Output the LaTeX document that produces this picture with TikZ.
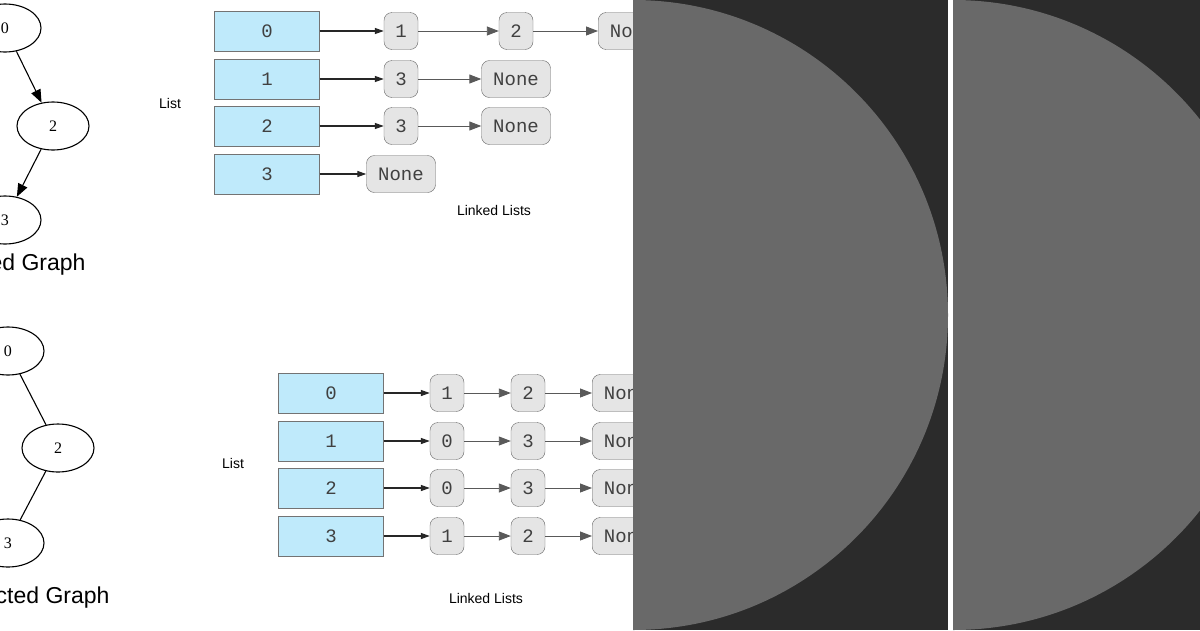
\documentclass[tikz,border=0pt]{standalone}
\usepackage{fontspec}
\setmainfont{Liberation Sans}
\newfontfamily\mono{Liberation Mono}
\newfontfamily\seriff{Liberation Serif}
\usetikzlibrary{arrows.meta,shapes.geometric}
\begin{document}
\begin{tikzpicture}[x=1pt,y=-1pt,
  box/.style={draw=black!55,fill=cyan!25!white,minimum width=105pt,minimum height=40pt,inner sep=0pt,font=\mono\fontsize{19}{19}\selectfont,text=black!75},
  ll/.style={draw=black!60,fill=black!10,rounded corners=8pt,minimum width=34pt,minimum height=37pt,inner sep=2pt,font=\mono\fontsize{19}{19}\selectfont,text=black!75},
  nn/.style={ll,minimum width=69pt},
  gv/.style={draw,line width=1.1pt,ellipse,minimum width=72pt,minimum height=48pt,inner sep=0pt,font=\seriff\fontsize{16}{16}\selectfont},
  a1/.style={-{Triangle[length=9pt,width=6pt]},line width=1.3pt,black!85},
  a2/.style={-{Triangle[length=12pt,width=9pt]},line width=0.9pt,black!65},
  ge/.style={-{Triangle[length=13pt,width=10pt]},line width=1.1pt},
  lab/.style={font=\fontsize{14}{14}\selectfont}]
\useasboundingbox (0,0) rectangle (1200,630);
\fill[white] (0,0) rectangle (633,630);
\begin{scope}
\clip (0,0) rectangle (633,630);
% top graph
\node[gv] (t0) at (5,28) {0};
\node[gv] (t2) at (53,126) {2};
\node[gv] (t3) at (5,220) {3};
\draw[ge] (t0) -- (t2);
\draw[ge] (t2) -- (t3);
\node[anchor=east,font=\fontsize{23}{23}\selectfont] (tt) at (89,265) {Directed Graph};
% top lists
\node[lab] (tl) at (170,103) {List};
\node[box] (b0) at (267,31) {0};
\node[box] (b1) at (267,79) {1};
\node[box] (b2) at (267,126) {2};
\node[box] (b3) at (267,174) {3};
\node[ll] (n01) at (401,31) {1};
\node[ll] (n02) at (516,31) {2};
\node[nn,anchor=west] (n03) at (598,31) {None};
\node[ll] (n11) at (401,79) {3};
\node[nn] (n12) at (516,79) {None};
\node[ll] (n21) at (401,126) {3};
\node[nn] (n22) at (516,126) {None};
\node[nn] (n31) at (401,174) {None};
\draw[a1] (b0) -- (n01); \draw[a2] (n01) -- (n02); \draw[a2] (n02) -- (n03);
\draw[a1] (b1) -- (n11); \draw[a2] (n11) -- (n12);
\draw[a1] (b2) -- (n21); \draw[a2] (n21) -- (n22);
\draw[a1] (b3) -- (n31);
\node[lab] (tll) at (494,210) {Linked Lists};
% bottom graph
\node[gv] (u0) at (8,351) {0};
\node[gv] (u2) at (58,448) {2};
\node[gv] (u3) at (8,543) {3};
\draw[line width=1.1pt] (u0) -- (u2);
\draw[line width=1.1pt] (u2) -- (u3);
\node[anchor=east,font=\fontsize{23}{23}\selectfont] (ut) at (113,598) {Undirected Graph};
% bottom lists
\node[lab] (bl) at (233,463) {List};
\node[box] (c0) at (331,393) {0};
\node[box] (c1) at (331,441) {1};
\node[box] (c2) at (331,488) {2};
\node[box] (c3) at (331,536) {3};
\foreach \r/\y/\p/\q in {0/393/1/2,1/441/0/3,2/488/0/3,3/536/1/2}{
  \node[ll] (m\r1) at (447,\y) {\p};
  \node[ll] (m\r2) at (528,\y) {\q};
  \node[nn,anchor=west] (m\r3) at (592,\y) {None};
  \draw[a1] (c\r) -- (m\r1); \draw[a2] (m\r1) -- (m\r2); \draw[a2] (m\r2) -- (m\r3);
}
\node[lab] (bll) at (486,598) {Linked Lists};
\end{scope}
% dark panels
\fill[black!83] (633,0) rectangle (948,630);
\fill[white] (948,0) rectangle (953,630);
\fill[black!83] (953,0) rectangle (1200,630);
\begin{scope}
\clip (633,0) rectangle (948,630);
\fill[black!59] (633,315) circle[radius=315];
\end{scope}
\begin{scope}
\clip (953,0) rectangle (1200,630);
\fill[black!59] (953,315) circle[radius=315];
\end{scope}
\end{tikzpicture}
\end{document}
